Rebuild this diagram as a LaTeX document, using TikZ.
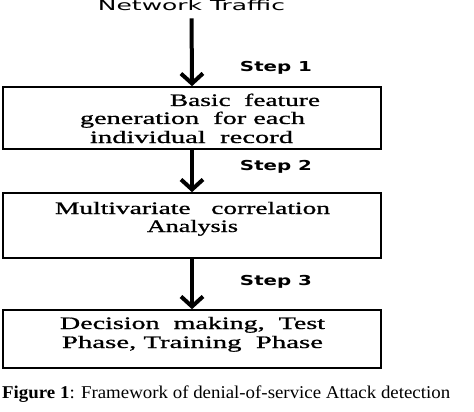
\documentclass[tikz,border=0pt]{standalone}
\usepackage{fontspec}
\usepackage{graphicx}
\setmainfont{Liberation Serif}
\newfontfamily\boxfont[FakeBold=0.8]{Liberation Serif}
\newfontfamily\labfont{DejaVu Sans}
\usetikzlibrary{arrows.meta}
\newcommand\fitw[2]{\resizebox{#1pt}{\height}{#2}}
\begin{document}
\begin{tikzpicture}[x=1pt,y=-1pt,
  stage/.style={draw=black,line width=1.6pt,inner sep=0pt,fill=none},
  flow/.style={line width=4pt,-{Straight Barb[length=10pt,width=22pt]}},
  boxtxt/.style={anchor=base,inner sep=0pt,font=\boxfont\fontsize{17.5}{20}\selectfont},
  steptxt/.style={anchor=base,inner sep=0pt,font=\labfont\bfseries\fontsize{13.7}{16}\selectfont},
  srctxt/.style={anchor=base,inner sep=0pt,font=\labfont\fontsize{14}{16}\selectfont},
  captxt/.style={anchor=base west,inner sep=0pt,font=\fontsize{18}{21}\selectfont},
]
\useasboundingbox[fill=white] (0,0) rectangle (474,412);

% source label
\node[srctxt] (src) at (191.5,11) {\fitw{187}{Network Traffic}};

% boxes
\node[stage,minimum width=378pt,minimum height=62pt] (b1) at (192,118) {};
\node[stage,minimum width=378pt,minimum height=65pt] (b2) at (192,225.5) {};
\node[stage,minimum width=378pt,minimum height=58pt] (b3) at (192,339) {};

% box texts
\node[boxtxt] (b1a) at (245,106) {\fitw{150}{Basic\ \ feature}};
\node[boxtxt] (b1b) at (192.5,124) {\fitw{225}{generation\ \ for\ each}};
\node[boxtxt] (b1c) at (191.5,143) {\fitw{203}{individual\ \ record}};
\node[boxtxt] (b2a) at (192.5,214) {\fitw{275}{Multivariate\ \ \ correlation}};
\node[boxtxt] (b2b) at (192.5,232) {\fitw{91}{Analysis}};
\node[boxtxt] (b3a) at (192.5,329) {\fitw{265}{Decision\ \ making,\ \ Test}};
\node[boxtxt] (b3b) at (192.5,348) {\fitw{261}{Phase,\ Training\ \ Phase}};

% step labels
\node[steptxt] (s1) at (276,72) {\fitw{72}{Step 1}};
\node[steptxt] (s2) at (276,170) {\fitw{72}{Step 2}};
\node[steptxt] (s3) at (276,285) {\fitw{72}{Step 3}};

% arrows
\draw[flow,shorten <=7pt] (src.south) -- (b1.north);
\draw[flow] (b1.south) -- (b2.north);
\draw[flow] (b2.south) -- (b3.north);

% caption
\node[captxt] (cap) at (2,398) {\fitw{448}{\textbf{Figure 1}: Framework of denial-of-service Attack detection}};
\end{tikzpicture}
\end{document}
